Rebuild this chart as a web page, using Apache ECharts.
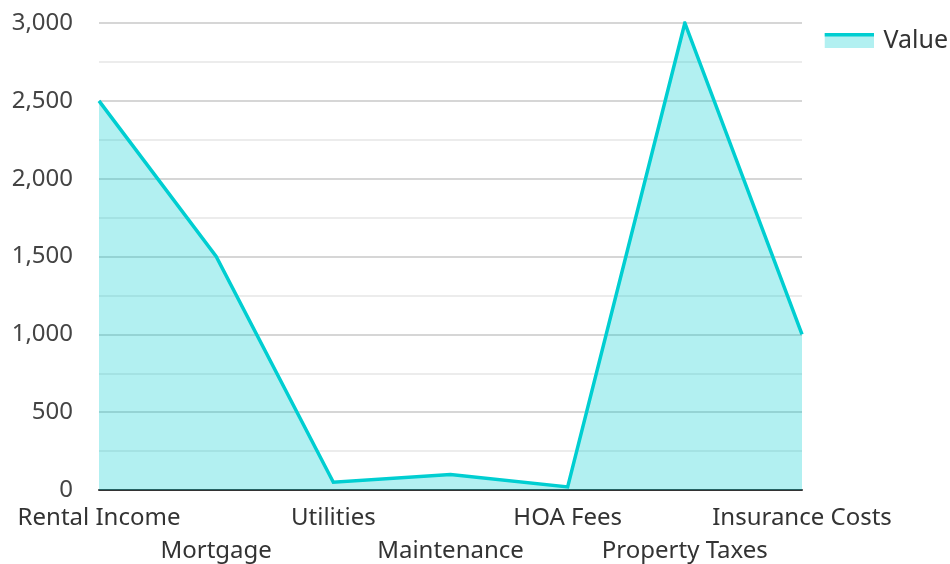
<!DOCTYPE html>
<html>
<head>
<meta charset="utf-8">
<script src="https://cdn.jsdelivr.net/npm/echarts@6/dist/echarts.min.js"></script>
<style>
html,body{margin:0;padding:0;background:#fff;}
#main{width:950px;height:564px;}
</style>
</head>
<body>
<div id="main"></div>
<script>
const categories = ['Rental Income', 'Mortgage', 'Utilities', 'Maintenance', 'HOA Fees', 'Property Taxes', 'Insurance Costs'];
const values = [2500, 1500, 50, 100, 20, 3000, 1000];
const seriesName = 'Value';

const iconSvg = "<svg xmlns='http://www.w3.org/2000/svg' width='50' height='15'><rect x='0' y='0' width='50' height='15' fill='rgba(0,206,209,0.3)'/><rect x='0' y='0' width='50' height='3.5' fill='%2300CED1'/></svg>";

const chart = echarts.init(document.getElementById('main'), null, {renderer: 'canvas'});
chart.setOption({
  animation: false,
  textStyle: {fontFamily: 'Noto Sans'},
  legend: {
    right: 2,
    top: 28,
    padding: 0,
    itemWidth: 50,
    itemHeight: 15,
    icon: 'image://data:image/svg+xml;utf8,' + iconSvg,
    textStyle: {fontSize: 25, color: '#333', fontFamily: 'Noto Sans', padding: [0, 0, 0, 4]},
    data: [seriesName]
  },
  grid: {left: 99, right: 148, top: 23, bottom: 74, containLabel: false, outerBoundsMode: 'none'},
  xAxis: {
    type: 'category',
    data: categories,
    boundaryGap: false,
    axisLine: {show: true, lineStyle: {color: '#333', width: 2}},
    axisTick: {show: false},
    axisLabel: {
      interval: 0,
      margin: 12,
      fontSize: 24,
      lineHeight: 33,
      color: '#333',
      fontFamily: 'Noto Sans',
      formatter: function (v, i) { return i % 2 ? '\n' + v : v; }
    },
    splitLine: {show: false}
  },
  yAxis: {
    type: 'value',
    min: 0,
    max: 3000,
    interval: 500,
    axisLine: {show: false},
    axisTick: {show: false},
    axisLabel: {
      margin: 26,
      fontSize: 24,
      color: '#444',
      fontFamily: 'Noto Sans',
      formatter: function (v) { return v.toLocaleString('en-US'); }
    },
    splitLine: {show: true, lineStyle: {color: '#c8c8c8', width: 1.5}},
    minorTick: {show: false, splitNumber: 2},
    minorSplitLine: {show: true, lineStyle: {color: '#e6e6e6', width: 1.5}}
  },
  series: [{
    name: seriesName,
    type: 'line',
    data: values,
    symbol: 'none',
    lineStyle: {color: '#00CED1', width: 3.5, join: 'miter'},
    itemStyle: {color: '#00CED1'},
    areaStyle: {color: 'rgba(0,206,209,0.3)', opacity: 1}
  }]
});
</script>
</body>
</html>
